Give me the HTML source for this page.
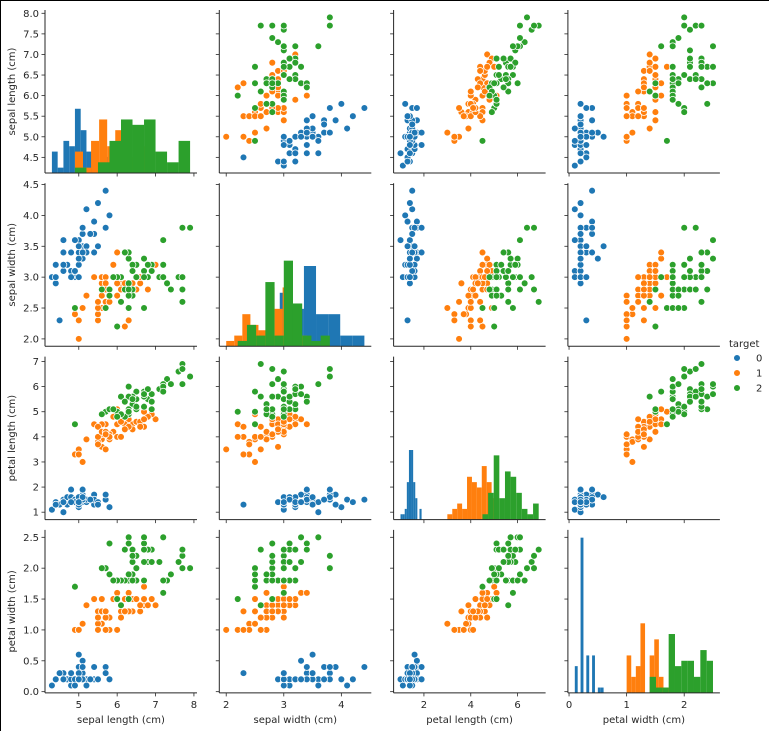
<!DOCTYPE html>
<html><head><meta charset="utf-8"><style>
html,body{margin:0;padding:0;background:#fff}
svg{display:block}
text{font-family:"DejaVu Sans","Liberation Sans",sans-serif;font-size:10px;fill:#262626}
</style></head><body>
<svg id="chart" width="769" height="731" viewBox="0 0 769 731" xmlns="http://www.w3.org/2000/svg">
<rect x="0" y="0" width="769" height="731" fill="#fff"/>
<line x1="0.5" y1="0" x2="0.5" y2="731" stroke="#000" stroke-width="1"/>
<line x1="0" y1="0.5" x2="769" y2="0.5" stroke="#000" stroke-width="1"/>
</svg>
<script>
const featureNames = ["sepal length (cm)","sepal width (cm)","petal length (cm)","petal width (cm)"];
const sepalLength = [5.1,4.9,4.7,4.6,5.0,5.4,4.6,5.0,4.4,4.9,5.4,4.8,4.8,4.3,5.8,5.7,5.4,5.1,5.7,5.1,5.4,5.1,4.6,5.1,4.8,5.0,5.0,5.2,5.2,4.7,4.8,5.4,5.2,5.5,4.9,5.0,5.5,4.9,4.4,5.1,5.0,4.5,4.4,5.0,5.1,4.8,5.1,4.6,5.3,5.0,
7.0,6.4,6.9,5.5,6.5,5.7,6.3,4.9,6.6,5.2,5.0,5.9,6.0,6.1,5.6,6.7,5.6,5.8,6.2,5.6,5.9,6.1,6.3,6.1,6.4,6.6,6.8,6.7,6.0,5.7,5.5,5.5,5.8,6.0,5.4,6.0,6.7,6.3,5.6,5.5,5.5,6.1,5.8,5.0,5.6,5.7,5.7,6.2,5.1,5.7,
6.3,5.8,7.1,6.3,6.5,7.6,4.9,7.3,6.7,7.2,6.5,6.4,6.8,5.7,5.8,6.4,6.5,7.7,7.7,6.0,6.9,5.6,7.7,6.3,6.7,7.2,6.2,6.1,6.4,7.2,7.4,7.9,6.4,6.3,6.1,7.7,6.3,6.4,6.0,6.9,6.7,6.9,5.8,6.8,6.7,6.7,6.3,6.5,6.2,5.9];
const sepalWidth = [3.5,3.0,3.2,3.1,3.6,3.9,3.4,3.4,2.9,3.1,3.7,3.4,3.0,3.0,4.0,4.4,3.9,3.5,3.8,3.8,3.4,3.7,3.6,3.3,3.4,3.0,3.4,3.5,3.4,3.2,3.1,3.4,4.1,4.2,3.1,3.2,3.5,3.6,3.0,3.4,3.5,2.3,3.2,3.5,3.8,3.0,3.8,3.2,3.7,3.3,
3.2,3.2,3.1,2.3,2.8,2.8,3.3,2.4,2.9,2.7,2.0,3.0,2.2,2.9,2.9,3.1,3.0,2.7,2.2,2.5,3.2,2.8,2.5,2.8,2.9,3.0,2.8,3.0,2.9,2.6,2.4,2.4,2.7,2.7,3.0,3.4,3.1,2.3,3.0,2.5,2.6,3.0,2.6,2.3,2.7,3.0,2.9,2.9,2.5,2.8,
3.3,2.7,3.0,2.9,3.0,3.0,2.5,2.9,2.5,3.6,3.2,2.7,3.0,2.5,2.8,3.2,3.0,3.8,2.6,2.2,3.2,2.8,2.8,2.7,3.3,3.2,2.8,3.0,2.8,3.0,2.8,3.8,2.8,2.8,2.6,3.0,3.4,3.1,3.0,3.1,3.1,3.1,2.7,3.2,3.3,3.0,2.5,3.0,3.4,3.0];
const petalLength = [1.4,1.4,1.3,1.5,1.4,1.7,1.4,1.5,1.4,1.5,1.5,1.6,1.4,1.1,1.2,1.5,1.3,1.4,1.7,1.5,1.7,1.5,1.0,1.7,1.9,1.6,1.6,1.5,1.4,1.6,1.6,1.5,1.5,1.4,1.5,1.2,1.3,1.4,1.3,1.5,1.3,1.3,1.3,1.6,1.9,1.4,1.6,1.4,1.5,1.4,
4.7,4.5,4.9,4.0,4.6,4.5,4.7,3.3,4.6,3.9,3.5,4.2,4.0,4.7,3.6,4.4,4.5,4.1,4.5,3.9,4.8,4.0,4.9,4.7,4.3,4.4,4.8,5.0,4.5,3.5,3.8,3.7,3.9,5.1,4.5,4.5,4.7,4.4,4.1,4.0,4.4,4.6,4.0,3.3,4.2,4.2,4.2,4.3,3.0,4.1,
6.0,5.1,5.9,5.6,5.8,6.6,4.5,6.3,5.8,6.1,5.1,5.3,5.5,5.0,5.1,5.3,5.5,6.7,6.9,5.0,5.7,4.9,6.7,4.9,5.7,6.0,4.8,4.9,5.6,5.8,6.1,6.4,5.6,5.1,5.6,6.1,5.6,5.5,4.8,5.4,5.6,5.1,5.1,5.9,5.7,5.2,5.0,5.2,5.4,5.1];
const petalWidth = [0.2,0.2,0.2,0.2,0.2,0.4,0.3,0.2,0.2,0.1,0.2,0.2,0.1,0.1,0.2,0.4,0.4,0.3,0.3,0.3,0.2,0.4,0.2,0.5,0.2,0.2,0.4,0.2,0.2,0.2,0.2,0.4,0.1,0.2,0.2,0.2,0.2,0.1,0.2,0.2,0.3,0.3,0.2,0.6,0.4,0.3,0.2,0.2,0.2,0.2,
1.4,1.5,1.5,1.3,1.5,1.3,1.6,1.0,1.3,1.4,1.0,1.5,1.0,1.4,1.3,1.4,1.5,1.0,1.5,1.1,1.8,1.3,1.5,1.2,1.3,1.4,1.4,1.7,1.5,1.0,1.1,1.0,1.2,1.6,1.5,1.6,1.5,1.3,1.3,1.3,1.2,1.4,1.2,1.0,1.3,1.2,1.3,1.3,1.1,1.3,
2.5,1.9,2.1,1.8,2.2,2.1,1.7,1.8,1.8,2.5,2.0,1.9,2.1,2.0,2.4,2.3,1.8,2.2,2.3,1.5,2.3,2.0,2.0,1.8,2.1,1.8,1.8,1.8,2.1,1.6,1.9,2.0,2.2,1.5,1.4,2.3,2.4,1.8,1.8,2.1,2.4,2.3,1.9,2.3,2.5,2.3,1.9,2.0,2.3,1.8];
const target = [0,0,0,0,0,0,0,0,0,0,0,0,0,0,0,0,0,0,0,0,0,0,0,0,0,0,0,0,0,0,0,0,0,0,0,0,0,0,0,0,0,0,0,0,0,0,0,0,0,0,
1,1,1,1,1,1,1,1,1,1,1,1,1,1,1,1,1,1,1,1,1,1,1,1,1,1,1,1,1,1,1,1,1,1,1,1,1,1,1,1,1,1,1,1,1,1,1,1,1,1,
2,2,2,2,2,2,2,2,2,2,2,2,2,2,2,2,2,2,2,2,2,2,2,2,2,2,2,2,2,2,2,2,2,2,2,2,2,2,2,2,2,2,2,2,2,2,2,2,2,2];
const hueLabels = ["0","1","2"];
const yTickLabels = [["4.5","5.0","5.5","6.0","6.5","7.0","7.5","8.0"],["2.0","2.5","3.0","3.5","4.0","4.5"],["1","2","3","4","5","6","7"],["0.0","0.5","1.0","1.5","2.0","2.5"]];
const xTickLabels = [["5","6","7","8"],["2","3","4"],["2","4","6"],["0","1","2"]];

const NS="http://www.w3.org/2000/svg";
const svg=document.getElementById('chart');
const colors=["#1f77b4","#ff7f0e","#2ca02c"];
const data=[sepalLength,sepalWidth,petalLength,petalWidth];
const X0=45,STEPX=174.3,W=152,Y0=10,STEPY=173.3,H=163;
function mk(tag,attrs,parent){const e=document.createElementNS(NS,tag);for(const k in attrs)e.setAttribute(k,attrs[k]);(parent||svg).appendChild(e);return e;}
const ranges=data.map(a=>{const mn=Math.min(...a),mx=Math.max(...a),m=(mx-mn)*0.05;return [mn-m,mx+m];});
function sx(col,v){const r=ranges[col];return X0+col*STEPX+(v-r[0])/(r[1]-r[0])*W;}
function sy(row,v){const r=ranges[row];return Y0+row*STEPY+H-(v-r[0])/(r[1]-r[0])*H;}
// histograms
const hists=[];let hmax=0;
for(let f=0;f<4;f++){hists[f]=[];for(let h=0;h<3;h++){const vals=data[f].filter((v,i)=>target[i]===h);const mn=Math.min(...vals),mx=Math.max(...vals),w=(mx-mn)/10;const c=new Array(10).fill(0);vals.forEach(v=>{let b=Math.floor((v-mn)/w+1e-9);if(b>9)b=9;c[b]++;});c.forEach(x=>{if(x>hmax)hmax=x;});hists[f].push({mn,w,c});}}
const hTop=hmax*1.05;
for(let r=0;r<4;r++){for(let c=0;c<4;c++){
  const g=mk('g',{});
  
  
  const ax=X0+c*STEPX,ay=Y0+r*STEPY;
  if(r===c){
    hists[c].forEach((hs,h)=>{hs.c.forEach((cnt,b)=>{if(!cnt)return;const x1=sx(c,hs.mn+b*hs.w),x2=sx(c,hs.mn+(b+1)*hs.w);const hh=cnt/hTop*H;
      const rc=mk('rect',{x:x1,y:ay+H-hh,width:x2-x1,height:hh,fill:colors[h]},g);
      
      });});
  } else {
    for(let i=0;i<150;i++){
      const p=mk('circle',{cx:sx(c,data[c][i]),cy:sy(r,data[r][i]),r:3.4,fill:colors[target[i]],stroke:'#fff','stroke-width':0.75},g);
      
      
    }
  }
  // spines
  mk('line',{x1:ax,y1:ay,x2:ax,y2:ay+H,stroke:'#262626','stroke-width':1},g);
  mk('line',{x1:ax,y1:ay+H,x2:ax+W,y2:ay+H,stroke:'#262626','stroke-width':1},g);
  // y ticks
  yTickLabels[r].forEach(t=>{const y=sy(r,parseFloat(t));mk('line',{x1:ax-3.5,y1:y,x2:ax,y2:y,stroke:'#262626','stroke-width':0.8},g);
    if(c===0){const tx=mk('text',{x:ax-6,y:y+3.5,'text-anchor':'end'},g);tx.textContent=t;
      
      }});
  xTickLabels[c].forEach(t=>{const x=sx(c,parseFloat(t));mk('line',{x1:x,y1:ay+H,x2:x,y2:ay+H+3.5,stroke:'#262626','stroke-width':0.8},g);
    if(r===3){const tx=mk('text',{x:x,y:ay+H+15,'text-anchor':'middle'},g);tx.textContent=t;
      
      }});
}}
for(let i=0;i<4;i++){
  const xl=mk('text',{x:X0+i*STEPX+W/2,y:723,'text-anchor':'middle'});xl.textContent=featureNames[i];
  
  
  const yc=Y0+i*STEPY+H/2;
  const yl=mk('text',{x:0,y:0,'text-anchor':'middle',transform:'translate(15,'+yc+') rotate(-90)'});yl.textContent=featureNames[i];
  
  
}
const lg=mk('g',{});


const lt=mk('text',{x:729,y:347},lg);lt.textContent='target';
hueLabels.forEach((l,h)=>{const y=358+h*15;
  const d=mk('circle',{cx:737,cy:y,r:3.4,fill:colors[h],stroke:'#fff','stroke-width':0.75},lg);
  
  
  const t=mk('text',{x:756,y:y+3.5},lg);t.textContent=l;
  
  });
</script>
</body></html>
